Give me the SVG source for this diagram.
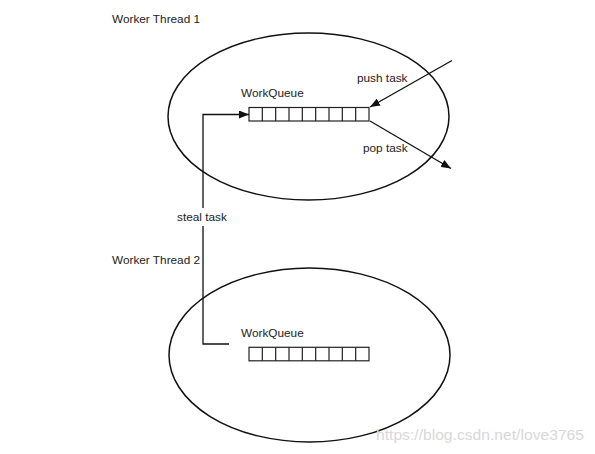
<svg xmlns="http://www.w3.org/2000/svg" width="595" height="454" viewBox="0 0 595 454">
<defs>
<style>
text{font-family:"Liberation Sans",Arial,sans-serif;font-size:11.8px;fill:#222}
.ell{fill:none;stroke:#111;stroke-width:1.5}
.q{fill:#fff;stroke:#222;stroke-width:1.2}
.c{fill:none;stroke:#111;stroke-width:1.3}
.wm{font-size:15px;fill:#d8d8d8}
</style>
<marker id="ah" viewBox="0 0 10 8" refX="10" refY="4" markerWidth="10" markerHeight="8" markerUnits="userSpaceOnUse" orient="auto">
<path d="M0,0 L10,4 L0,8 Z" fill="#111"/>
</marker>
<g id="queue">
<rect class="q" x="0" y="0" width="120" height="13.5"/>
<path class="q" d="M13.33,0V13.5M26.67,0V13.5M40,0V13.5M53.33,0V13.5M66.67,0V13.5M80,0V13.5M93.33,0V13.5M106.67,0V13.5"/>
</g>
</defs>
<rect width="595" height="454" fill="#fff"/>
<g id="thread1">
<text x="112" y="23">Worker Thread 1</text>
<ellipse class="ell" cx="308.5" cy="116.5" rx="140.5" ry="83.5"/>
<text x="241" y="97">WorkQueue</text>
<use href="#queue" x="249" y="107.5"/>
</g>
<g id="thread2">
<text x="112" y="264">Worker Thread 2</text>
<ellipse class="ell" cx="309.5" cy="355" rx="140.5" ry="87"/>
<text x="241" y="337">WorkQueue</text>
<use href="#queue" x="249" y="347.3"/>
</g>
<g id="connectors">
<path class="c" d="M229,344H203V114.5H249" marker-end="url(#ah)"/>
<rect x="176" y="208" width="54" height="18" fill="#fff"/>
<text x="177" y="221">steal task</text>
<line class="c" x1="452" y1="60.5" x2="370" y2="107" marker-end="url(#ah)"/>
<text x="357" y="82">push task</text>
<line class="c" x1="370" y1="121" x2="451" y2="168.5" marker-end="url(#ah)"/>
<text x="363" y="152">pop task</text>
</g>
<text class="wm" x="376" y="440" textLength="208" lengthAdjust="spacingAndGlyphs">https://blog.csdn.net/love3765</text>
</svg>
